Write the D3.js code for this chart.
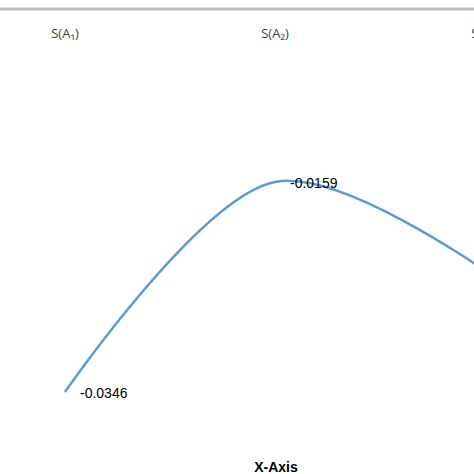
<!DOCTYPE html>
<html><head><meta charset="utf-8">
<script src="https://cdn.jsdelivr.net/npm/d3@7"></script>
<style>body{margin:0;background:#fff}svg{display:block}</style>
</head><body><div id="plot"></div>
<script>
var categories = ["S(A\u2081)", "S(A\u2082)", "S(A\u2083)"];
var values = [-0.0346, -0.0159, -0.0238];
var labels = ["-0.0346", "-0.0159", ""];

var svg = d3.select("#plot").append("svg")
	.attr("width", 474).attr("height", 474);

var x = d3.scalePoint().domain(categories).range([65, 485]);
var y = d3.scaleLinear().domain([-0.0346, -0.0159]).range([392, 182]);

// top axis line
svg.append("line")
	.attr("x1", 0).attr("x2", 474).attr("y1", 9).attr("y2", 9)
	.style("stroke", "#bfbfbf").style("stroke-width", 3);

svg.selectAll("text.cat").data(categories).enter().append("text")
	.attr("class", "cat")
	.attr("x", function(d){ return x(d); })
	.attr("y", 38)
	.attr("text-anchor", "middle")
	.style("font-family", "Open Sans, sans-serif")
	.style("font-size", "13px")
	.style("fill", "#404040")
	.text(function(d){ return d; });

var line = d3.line()
	.x(function(d, i){ return x(categories[i]); })
	.y(function(d){ return y(d); })
	.curve(d3.curveCatmullRom.alpha(0.5));

svg.append("path").datum(values)
	.attr("d", line)
	.style("fill", "none")
	.style("stroke", "#5b9bd5")
	.style("stroke-width", 2.5);

svg.selectAll("text.lbl").data(values).enter().append("text")
	.attr("class", "lbl")
	.attr("x", function(d, i){ return x(categories[i]) + 15; })
	.attr("y", function(d){ return y(d) + 6; })
	.style("font-family", "Liberation Sans, sans-serif")
	.style("font-size", "14px")
	.style("fill", "#000")
	.text(function(d, i){ return labels[i]; });

svg.append("text")
	.attr("x", 276).attr("y", 472)
	.attr("text-anchor", "middle")
	.style("font-family", "Liberation Sans, sans-serif")
	.style("font-weight", "bold")
	.style("font-size", "14px")
	.text("X-Axis");
</script></body></html>
